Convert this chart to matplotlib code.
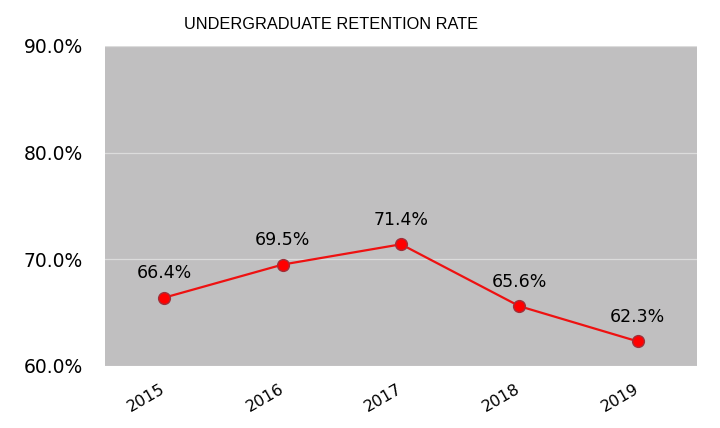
import matplotlib
matplotlib.use("Agg")
import matplotlib.pyplot as plt
from matplotlib.ticker import FuncFormatter

years = ["2015", "2016", "2017", "2018", "2019"]
retention = [66.4, 69.5, 71.4, 65.6, 62.3]
y_ticks = [60, 70, 80, 90]

fig = plt.figure(figsize=(7.2, 4.28), dpi=100)
ax = fig.add_axes([0.146, 0.145, 0.822, 0.748])
ax.set_facecolor("#c0bfc0")

x = range(len(years))
ax.plot(x, retention, color="#ee1111", lw=1.6, marker="o", markersize=8.5,
        markerfacecolor="#ff0000", markeredgecolor="#a0303a", markeredgewidth=1.0, zorder=3)

for xi, v in zip(x, retention):
    ax.annotate(f"{v:.1f}%", (xi, v), xytext=(0, 11), textcoords="offset points",
                ha="center", va="bottom", fontsize=12.5, color="#000000")

ax.set_xlim(-0.5, len(years) - 0.5)
ax.set_ylim(60, 90)
ax.set_yticks(y_ticks)
ax.yaxis.set_major_formatter(FuncFormatter(lambda v, _: f"{v:.1f}%"))
ax.set_xticks(list(x))
ax.set_xticklabels(years, rotation=30, fontsize=11.5, ha="right", va="center",
                   rotation_mode="anchor")
ax.tick_params(axis="y", labelsize=13.5, length=0, pad=16, labelcolor="#000000")
ax.tick_params(axis="x", length=0, pad=16, labelcolor="#000000")
ax.grid(axis="y", color="#dcdcdc", lw=0.9)
ax.set_axisbelow(True)
for s in ax.spines.values():
    s.set_visible(False)

fig.text(0.46, 0.943, "UNDERGRADUATE RETENTION RATE", ha="center", va="center",
         fontsize=11.8, family="Liberation Sans", color="#000000")

fig.savefig("out.png", dpi=100)
